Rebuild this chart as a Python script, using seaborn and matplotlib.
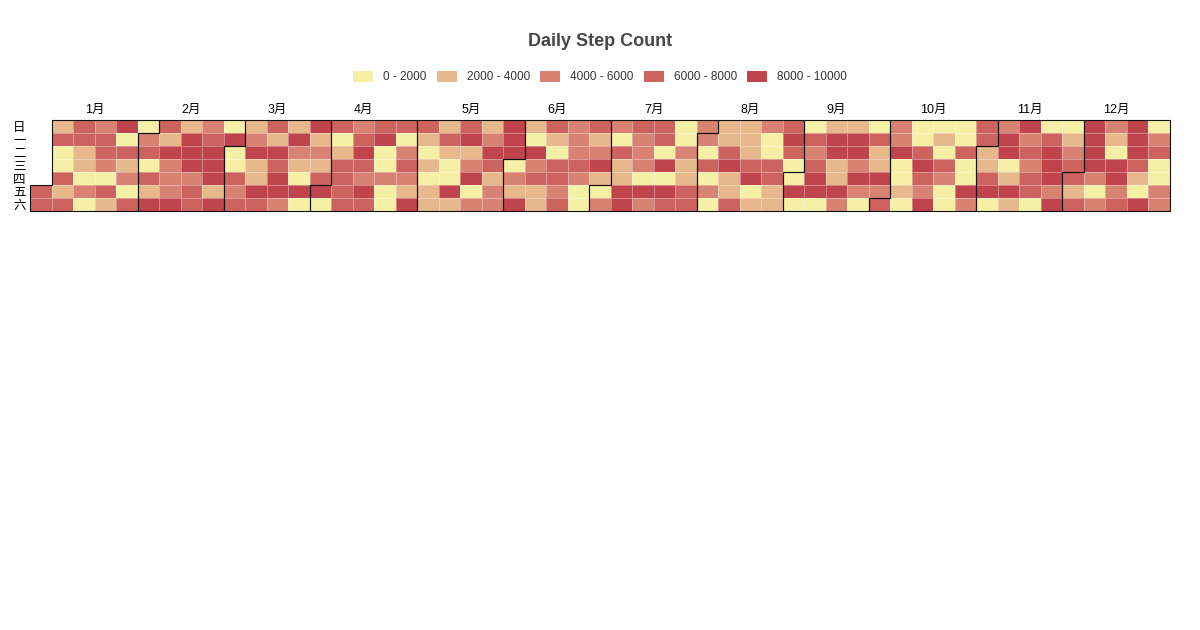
import numpy as np
import pandas as pd
import matplotlib
matplotlib.use('Agg')
import matplotlib.pyplot as plt
import seaborn as sns
from matplotlib.colors import ListedColormap, BoundaryNorm
from matplotlib.patches import Patch

# Data: daily step counts for 2016 (estimated from the colour bins)
year = 2016
bins = [0, 2000, 4000, 6000, 8000, 10000]
bin_labels = ['0 - 2000', '2000 - 4000', '4000 - 6000', '6000 - 8000', '8000 - 10000']
bin_colors = ['#f6efa6', '#e7b88c', '#d88273', '#cc635f', '#bf444c']
month_names = ['1月', '2月', '3月', '4月', '5月', '6月', '7月', '8月', '9月', '10月', '11月', '12月']
day_names = ['日', '一', '二', '三', '四', '五', '六']

jan = [7000, 7000, 3000, 7000, 1000, 1000, 7000, 3000, 7000, 7000, 7000, 3000, 3000, 1000, 5000, 1000,
       5000, 7000, 7000, 5000, 1000, 7000, 3000, 9000, 1000, 7000, 3000, 5000, 1000, 7000, 1000]
feb = [5000, 7000, 1000, 7000, 3000, 9000, 7000, 3000, 9000, 5000, 5000, 5000, 9000, 3000, 9000,
       9000, 9000, 5000, 7000, 7000, 5000, 7000, 9000, 9000, 9000, 3000, 9000, 1000, 9000]
mar = [1000, 1000, 7000, 5000, 7000, 3000, 5000, 9000, 3000, 3000, 9000, 7000, 7000, 3000, 9000, 7000,
       9000, 9000, 5000, 3000, 9000, 5000, 3000, 1000, 9000, 1000, 9000, 3000, 5000, 3000, 7000]
apr = [9000, 1000, 7000, 1000, 3000, 7000, 7000, 7000, 7000, 5000, 7000, 9000, 7000, 5000, 9000,
       7000, 7000, 9000, 1000, 1000, 5000, 1000, 1000, 7000, 1000, 5000, 7000, 5000, 3000, 9000]
may = [7000, 3000, 1000, 3000, 1000, 3000, 3000, 3000, 7000, 3000, 1000, 1000, 9000, 3000, 7000, 9000,
       3000, 5000, 9000, 1000, 5000, 3000, 5000, 9000, 7000, 3000, 5000, 5000, 9000, 9000, 9000]
jun = [1000, 5000, 3000, 9000, 3000, 1000, 9000, 5000, 7000, 3000, 3000, 7000, 3000, 1000, 7000,
       7000, 5000, 7000, 5000, 5000, 5000, 7000, 5000, 1000, 1000, 7000, 3000, 5000, 9000, 3000]
jul = [1000, 5000, 5000, 1000, 7000, 3000, 3000, 9000, 9000, 7000, 5000, 5000, 5000, 1000, 9000, 5000,
       7000, 7000, 1000, 9000, 1000, 9000, 7000, 1000, 1000, 5000, 3000, 3000, 7000, 7000, 5000]
aug = [5000, 1000, 7000, 1000, 5000, 1000, 3000, 3000, 7000, 9000, 3000, 3000, 7000, 3000, 3000, 3000,
       7000, 9000, 1000, 3000, 5000, 1000, 1000, 7000, 7000, 3000, 3000, 7000, 9000, 7000, 1000]
sep = [1000, 9000, 1000, 1000, 7000, 5000, 7000, 9000, 9000, 1000, 3000, 9000, 9000, 3000, 3000,
       9000, 5000, 3000, 9000, 9000, 5000, 9000, 5000, 1000, 1000, 7000, 3000, 3000, 9000, 5000]
oct_ = [7000, 5000, 5000, 9000, 1000, 1000, 3000, 1000, 1000, 1000, 7000, 9000, 7000, 5000, 9000, 1000,
        3000, 1000, 7000, 5000, 1000, 1000, 1000, 1000, 7000, 1000, 1000, 9000, 5000, 7000, 7000]
nov = [3000, 3000, 7000, 9000, 1000, 5000, 9000, 9000, 1000, 3000, 9000, 3000, 9000, 5000, 7000,
       5000, 7000, 7000, 1000, 1000, 7000, 9000, 9000, 9000, 5000, 9000, 1000, 3000, 5000, 7000]
dec = [7000, 3000, 7000, 9000, 9000, 9000, 9000, 5000, 1000, 5000, 5000, 3000, 1000, 9000, 9000, 5000,
       7000, 9000, 9000, 9000, 7000, 3000, 1000, 9000, 1000, 5000, 7000, 1000, 1000, 5000, 5000]

months = [jan, feb, mar, apr, may, jun, jul, aug, sep, oct_, nov, dec]

# Build the calendar table (weekday row, week column), Sunday first
dates = pd.date_range(f'{year}-01-01', f'{year}-12-31')
df = pd.DataFrame({'date': dates, 'steps': np.concatenate(months)})
df['row'] = (df['date'].dt.dayofweek + 1) % 7
start = df['row'].iloc[0]
df['col'] = (df['date'].dt.dayofyear - 1 + start) // 7
df['month'] = df['date'].dt.month
grid = df.pivot(index='row', columns='col', values='steps')

sns.set_theme(style='white')
plt.rcParams['font.family'] = ['Liberation Sans', 'Noto Sans CJK SC', 'DejaVu Sans']

fig = plt.figure(figsize=(12, 6.3), dpi=100)
ax = fig.add_axes([30 / 1200, 1 - 211 / 630, 1140 / 1200, 91 / 630])

cmap = ListedColormap(bin_colors)
norm = BoundaryNorm(bins, cmap.N)
sns.heatmap(grid, cmap=cmap, norm=norm, cbar=False, ax=ax,
            linewidths=0.6, linecolor=(1, 1, 1, 0.35),
            xticklabels=False, yticklabels=False)
ax.set_xlabel('')
ax.set_ylabel('')

# Month outlines
centers = []
for m in range(1, 13):
    sub = df[df['month'] == m]
    c0, r0 = sub['col'].iloc[0], sub['row'].iloc[0]
    c1, r1 = sub['col'].iloc[-1], sub['row'].iloc[-1]
    xs = [c0, c0 + 1, c0 + 1, c1 + 1, c1 + 1, c1, c1, c0, c0]
    ys = [r0, r0, 0, 0, r1 + 1, r1 + 1, 7, 7, r0]
    ax.plot(xs, ys, color='#111111', lw=0.8, clip_on=False, zorder=5)
    centers.append((c0 + c1 + 1) / 2)

ax.set_xticks(centers)
ax.set_xticklabels(month_names, fontsize=9, color='black')
ax.xaxis.tick_top()
ax.set_yticks(np.arange(7) + 0.5)
ax.set_yticklabels(day_names, fontsize=9, color='black', rotation=0)
ax.tick_params(axis='both', length=0, pad=3)

fig.suptitle('Daily Step Count', x=0.5, y=1 - 42 / 630, va='center',
             fontsize=13, fontweight='bold', color='#464646')

handles = [Patch(facecolor=c, edgecolor='none') for c in bin_colors]
fig.legend(handles, bin_labels, loc='center', bbox_to_anchor=(0.5, 1 - 77 / 630),
           ncol=5, frameon=False, fontsize=8.5, handlelength=1.7, handleheight=1.15,
           handletextpad=0.85, columnspacing=0.85, labelcolor='#333333')

fig.savefig('out.png', dpi=100)
